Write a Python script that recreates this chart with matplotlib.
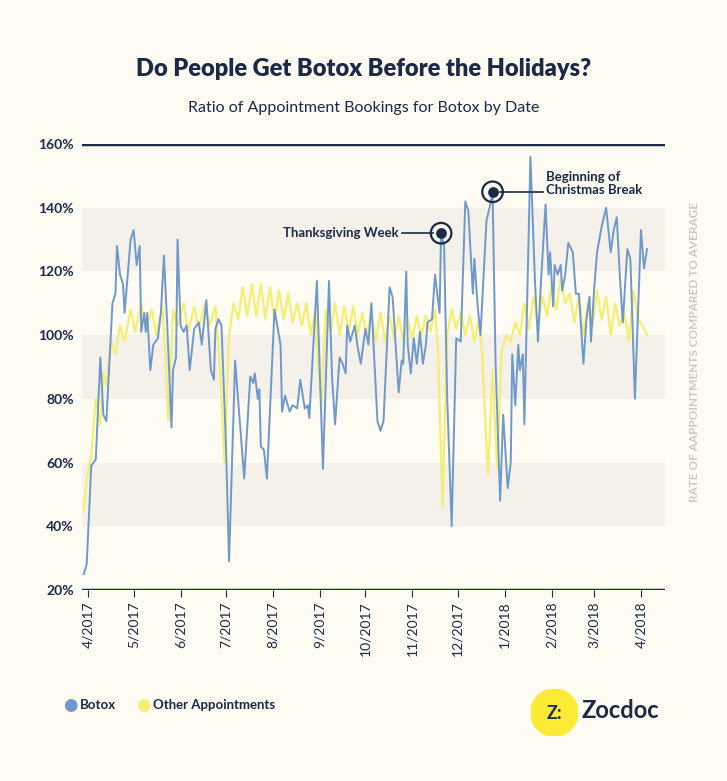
import datetime as dt
import matplotlib
matplotlib.use("Agg")
import matplotlib.pyplot as plt
from matplotlib.patches import Circle

START = dt.date(2017, 4, 1)

# Botox: (day offset from 4/1/2017, ratio %)
botox_days = [-3, -1, 2, 5, 8, 10, 12, 16, 18, 19, 21, 23, 24, 28, 30, 32, 34, 35, 37, 38, 39, 41,
              43, 46, 48, 50, 52, 55, 56, 58, 59, 61, 63, 65, 67, 70, 73, 75, 78, 81, 83, 84, 86,
              88, 91, 93, 97, 103, 107, 109, 110, 112, 113, 114, 116, 118, 123, 127, 128, 130, 133,
              135, 138, 140, 143, 145, 146, 151, 155, 159, 161, 163, 166, 168, 170, 171, 173, 176,
              178, 180, 183, 185, 187, 191, 193, 195, 199, 201, 205, 207, 208, 210, 211, 213, 215,
              217, 219, 221, 223, 224, 227, 229, 232, 233, 235, 237, 240, 243, 246, 249, 251, 254,
              255, 257, 259, 263, 265, 267, 269, 272, 274, 277, 279, 280, 282, 284, 285, 287, 288,
              292, 295, 297, 299, 302, 304, 305, 307, 308, 310, 312, 313, 315, 317, 320, 322, 324,
              327, 329, 331, 332, 334, 336, 339, 342, 345, 347, 349, 351, 353, 356, 358, 361, 365,
              367, 369]
botox_vals = [25, 28, 59, 61, 93, 75, 73, 110, 113, 128, 119, 116, 107, 130, 133, 122, 128, 101, 107,
              101, 107, 89, 97, 99, 107, 125, 105, 71, 89, 93, 130, 103, 101, 103, 89, 102, 104, 97,
              111, 89, 86, 102, 105, 103, 65, 29, 92, 55, 87, 85, 88, 80, 83, 65, 64, 55, 108, 97,
              76, 81, 76, 78, 77, 86, 77, 78, 74, 117, 58, 117, 87, 72, 93, 91, 88, 103, 98, 103, 96,
              91, 102, 97, 110, 73, 70, 73, 115, 112, 82, 92, 91, 120, 97, 88, 99, 91, 101, 91, 97,
              104, 105, 119, 107, 132, 128, 81, 40, 99, 98, 142, 139, 113, 124, 110, 100, 136, 140,
              145, 91, 48, 75, 52, 60, 94, 78, 97, 89, 94, 72, 156, 117, 98, 117, 141, 119, 126, 109,
              122, 119, 122, 114, 119, 129, 126, 113, 113, 91, 105, 112, 98, 114, 126, 134, 140, 126,
              133, 137, 119, 104, 127, 124, 80, 133, 121, 127]

# Other appointments
other_days = [-3, -1, 2, 5, 8, 10, 12, 15, 18, 21, 24, 28, 31, 35, 38, 42, 45, 49, 51, 53, 56, 59,
              63, 66, 70, 73, 77, 80, 84, 87, 90, 93, 96, 99, 102, 105, 108, 111, 114, 117, 120, 123,
              126, 129, 132, 135, 138, 141, 144, 147, 150, 152, 154, 157, 160, 163, 166, 169, 172,
              175, 178, 181, 184, 187, 190, 193, 196, 199, 202, 205, 208, 211, 214, 217, 220, 223,
              226, 229, 231, 234, 237, 240, 243, 246, 249, 252, 255, 258, 260, 262, 264, 267, 270,
              273, 276, 279, 282, 285, 288, 291, 294, 297, 300, 303, 306, 309, 312, 315, 318, 321,
              324, 327, 330, 333, 336, 339, 342, 345, 348, 351, 354, 357, 360, 363, 366, 369]
other_vals = [45, 55, 62, 80, 72, 88, 84, 98, 94, 103, 98, 108, 101, 110, 102, 108, 100, 109, 93, 73,
              108, 103, 110, 101, 109, 102, 110, 103, 109, 90, 60, 100, 110, 105, 115, 106, 116, 106,
              116, 105, 115, 105, 114, 105, 113, 104, 110, 103, 110, 100, 108, 90, 78, 108, 101, 110,
              100, 109, 101, 109, 100, 107, 100, 107, 98, 107, 98, 106, 99, 106, 98, 105, 99, 106,
              100, 106, 101, 108, 95, 46, 100, 108, 102, 107, 100, 106, 98, 105, 95, 75, 56, 89, 58,
              95, 100, 98, 104, 100, 110, 102, 112, 103, 112, 106, 116, 108, 118, 110, 113, 104, 112,
              100, 110, 103, 114, 105, 112, 100, 110, 103, 107, 98, 114, 105, 103, 100]

tick_labels = ["4/2017", "5/2017", "6/2017", "7/2017", "8/2017", "9/2017", "10/2017",
               "11/2017", "12/2017", "1/2018", "2/2018", "3/2018", "4/2018"]
y_ticks = [20, 40, 60, 80, 100, 120, 140, 160]

BG = "#fdfbf2"
NAVY = "#1c2a48"
BLUE = "#6f98cc"
YELLOW = "#f6ee72"
BAND = "#f3f1ea"


def to_dates(days):
    return [START + dt.timedelta(days=d) for d in days]


def day(d):
    return START + dt.timedelta(days=d)


fig = plt.figure(figsize=(7.27, 7.81), dpi=100, facecolor=BG)
ax = fig.add_axes([0.113, 0.2446, 0.802, 0.571], facecolor=BG)

# shaded bands
for lo in (40, 80, 120):
    ax.axhspan(lo, lo + 20, color=BAND, lw=0, zorder=0)

ax.plot(to_dates(other_days), other_vals, color=YELLOW, lw=1.6, zorder=2)
ax.plot(to_dates(botox_days), botox_vals, color=BLUE, lw=1.4, zorder=3)

ax.set_xlim(day(-4), day(381))
ax.set_ylim(20, 160)
ax.axhline(160, color=NAVY, lw=2.5, zorder=4)
ax.axhline(20, color=NAVY, lw=2.5, zorder=4)

tick_dates = [dt.date(2017 + (3 + i) // 12, (3 + i) % 12 + 1, 1) for i in range(13)]
ax.set_xticks(tick_dates)
ax.set_xticklabels(tick_labels, rotation=90, fontsize=10, color=NAVY, family="Lato")
ax.set_yticks(y_ticks)
ax.set_yticklabels([f"{v}%" for v in y_ticks], fontsize=10, color=NAVY, family="Lato",
                   fontweight="bold")
ax.tick_params(axis="y", length=0, pad=6)
ax.tick_params(axis="x", length=5, color=NAVY, direction="out", pad=3)
for s in ax.spines.values():
    s.set_visible(False)

# annotations
for d, val in [(233, 132), (267, 145)]:
    ax.scatter([day(d)], [val], s=220, facecolor="none", edgecolor=NAVY, lw=1.6, zorder=6)
    ax.scatter([day(d)], [val], s=45, color=NAVY, zorder=6)

ax.plot([day(207), day(228)], [132, 132], color=NAVY, lw=1.2, zorder=6)
ax.text(day(205), 132, "Thanksgiving Week", ha="right", va="center",
        fontsize=9.5, color=NAVY, family="Lato", fontweight="bold")
ax.plot([day(272), day(300)], [145, 145], color=NAVY, lw=1.2, zorder=6)
ax.text(day(302), 147.6, "Beginning of\nChristmas Break", ha="left", va="center",
        fontsize=9.5, color=NAVY, family="Lato", fontweight="bold", linespacing=1.15)

fig.text(0.5, 0.912, "Do People Get Botox Before the Holidays?", ha="center", va="center",
         fontsize=17, fontweight="heavy", color=NAVY, family="Lato")
fig.text(0.5, 0.862, "Ratio of Appointment Bookings for Botox by Date", ha="center",
         va="center", fontsize=11.5, color=NAVY, family="Lato")
fig.text(0.955, 0.55, "RATE OF AAPPOINTMENTS COMPARED TO AVERAGE", rotation=90,
         ha="center", va="center", fontsize=8.5, color="#c8c8c8", family="Lato",
         fontweight="bold")

# legend
fig.text(0.097, 0.0975, "\u25CF", color=BLUE, fontsize=12, ha="center", va="center")
fig.text(0.110, 0.0975, "Botox", color=NAVY, fontsize=9.5, va="center", family="Lato",
         fontweight="bold")
fig.text(0.197, 0.0975, "\u25CF", color=YELLOW, fontsize=12, ha="center", va="center")
fig.text(0.210, 0.0975, "Other Appointments", color=NAVY, fontsize=9.5, va="center",
         family="Lato", fontweight="bold")

# logo
logo = fig.add_axes([0.730, 0.055, 0.065, 0.065])
logo.set_aspect("equal")
logo.axis("off")
logo.add_patch(Circle((0.5, 0.5), 0.5, color="#fbeb35"))
logo.text(0.5, 0.48, "Z:", ha="center", va="center", fontsize=13, fontweight="bold",
          color=NAVY, family="Lato")
logo.set_xlim(0, 1)
logo.set_ylim(0, 1)
fig.text(0.800, 0.09, "Zocdoc", fontsize=17, fontweight="bold", color=NAVY, va="center",
         family="Lato")

fig.savefig("out.png", dpi=100, facecolor=BG)
